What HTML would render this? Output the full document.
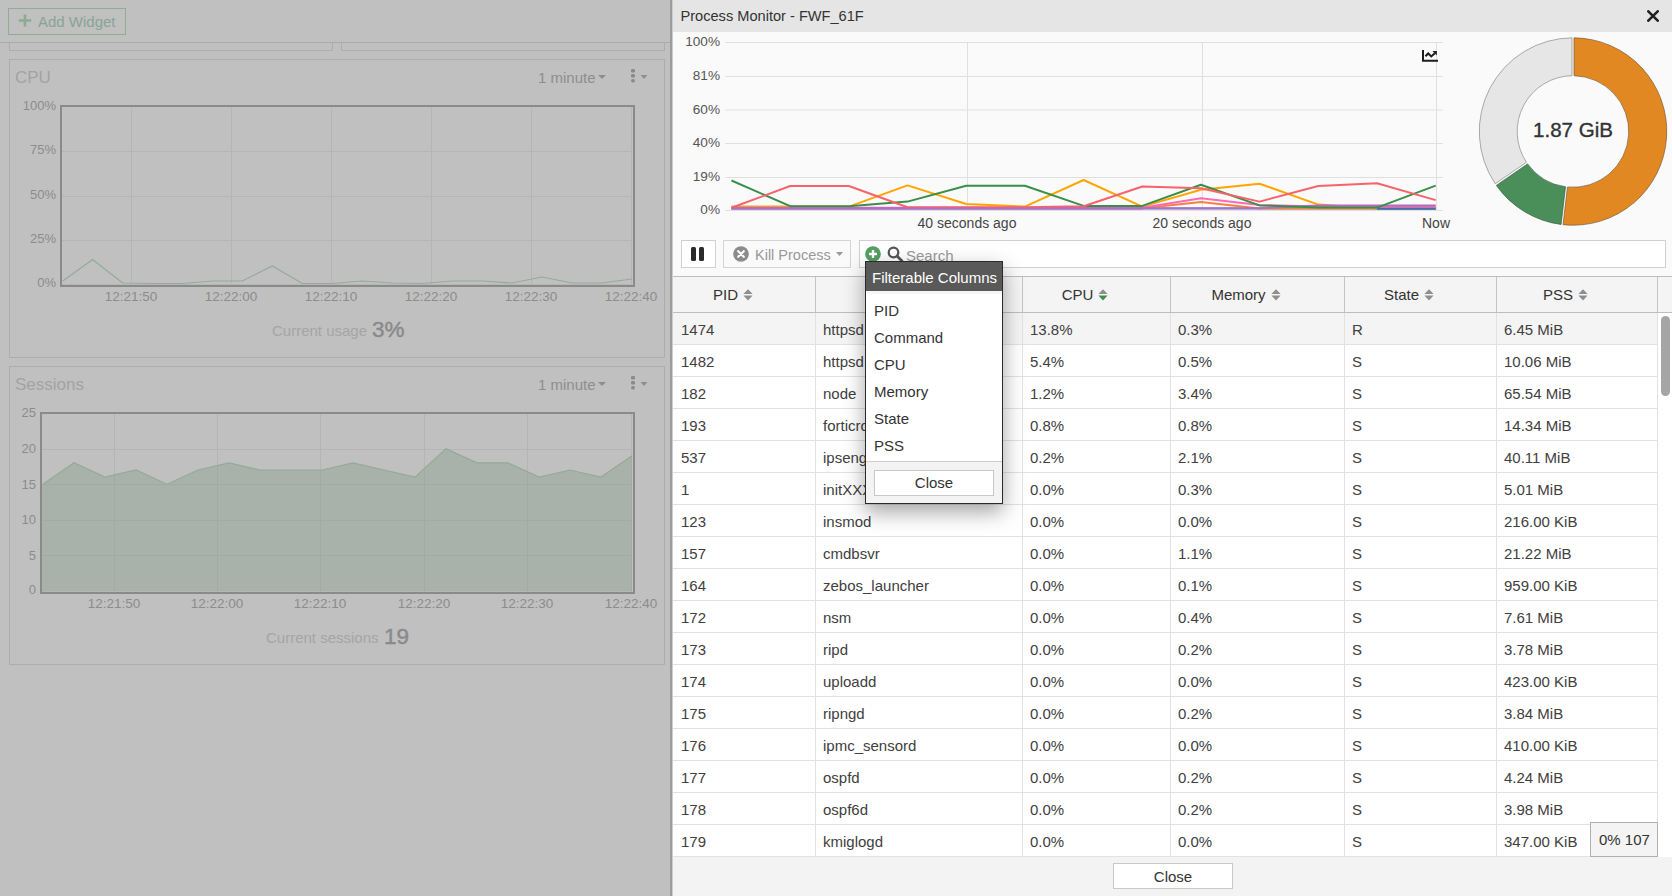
<!DOCTYPE html><html><head><meta charset="utf-8"><title>Process Monitor</title><style>
*{box-sizing:border-box;margin:0;padding:0}
html,body{width:1672px;height:896px;overflow:hidden}
body{font-family:"Liberation Sans",Arial,sans-serif;font-size:15px;color:#333;background:#c0c0c0;position:relative}
.a{position:absolute}
.t{position:absolute;white-space:nowrap}
#left{position:absolute;left:0;top:0;width:670px;height:896px;background:#c0c0c0;overflow:hidden}
.wbox{position:absolute;border:1px solid #adadad}
#modal{position:absolute;left:673px;top:0;width:999px;height:896px;background:#fafafa;overflow:hidden}
.btn{position:absolute;background:#fafafa;border:1px solid #d4d4d4}
.row{position:absolute;left:0;width:984px;height:32px;background:#fff;border-bottom:1px solid #e2e2e2}
.row .t{top:1px;line-height:31px;color:#404040}
.vl{position:absolute;width:1px;background:#e2e2e2}
.hd .t{color:#333}
.dd .t{color:#333}
</style></head><body>
<div id="left">
<div class="a" style="left:0;top:42px;width:670px;height:1px;background:#ababab"></div>
<div class="wbox" style="left:9px;top:30px;width:324px;height:21px;border-top:none"></div>
<div class="wbox" style="left:341px;top:30px;width:324px;height:21px;border-top:none"></div>
<div class="a" style="left:0;top:0;width:670px;height:42px;background:#c0c0c0"></div>
<div class="a" style="left:8px;top:8px;width:118px;height:27px;border:1px solid #8fac94"></div>
<svg class="a" style="left:18px;top:14px" width="14" height="13" viewBox="0 0 14 13"><path d="M7 0.5v12M0.8 6.5h12.4" stroke="#8daa92" stroke-width="2.6"/></svg>
<div class="t" style="left:38px;top:13px;font-size:15px;color:#88a496">Add Widget</div>
<div class="wbox" style="left:9px;top:59px;width:656px;height:299px"></div>
<div class="t" style="left:15px;top:68px;font-size:17px;color:#a3a3a3">CPU</div>
<div class="t" style="left:538px;top:69px;font-size:15px;color:#8e8e8e">1 minute</div>
<svg class="a" style="left:598px;top:75px" width="8" height="4" viewBox="0 0 8 4"><path d="M0 0h8L4 4z" fill="#8e8e8e"/></svg>
<svg class="a" style="left:630px;top:69px" width="18" height="14" viewBox="0 0 18 14"><rect x="1" y="0" width="4" height="3.4" rx="1.2" fill="#8b8b8b"/><rect x="1" y="5" width="4" height="3.4" rx="1.2" fill="#8b8b8b"/><rect x="1" y="10" width="4" height="3.4" rx="1.7" fill="#8b8b8b"/><path d="M10.5 6h7L14 10z" fill="#8e8e8e"/></svg>
<svg class="a" style="left:0;top:0" width="670" height="896" viewBox="0 0 670 896"><line x1="62" y1="106.5" x2="632" y2="106.5" stroke="#b5b5b5" stroke-width="1"/><line x1="62" y1="151.5" x2="632" y2="151.5" stroke="#b5b5b5" stroke-width="1"/><line x1="62" y1="196.5" x2="632" y2="196.5" stroke="#b5b5b5" stroke-width="1"/><line x1="62" y1="240.5" x2="632" y2="240.5" stroke="#b5b5b5" stroke-width="1"/><line x1="62" y1="284.5" x2="632" y2="284.5" stroke="#b5b5b5" stroke-width="1"/><line x1="131.5" y1="107" x2="131.5" y2="284" stroke="#b5b5b5" stroke-width="1"/><line x1="231.5" y1="107" x2="231.5" y2="284" stroke="#b5b5b5" stroke-width="1"/><line x1="331.5" y1="107" x2="331.5" y2="284" stroke="#b5b5b5" stroke-width="1"/><line x1="431.5" y1="107" x2="431.5" y2="284" stroke="#b5b5b5" stroke-width="1"/><line x1="531.5" y1="107" x2="531.5" y2="284" stroke="#b5b5b5" stroke-width="1"/><line x1="631.5" y1="107" x2="631.5" y2="284" stroke="#b5b5b5" stroke-width="1"/><polyline points="62.7,281.0 92.7,259.5 122.6,283.0 152.6,283.5 182.5,283.5 212.4,281.0 242.4,281.0 272.4,266.0 302.3,283.5 332.2,283.5 362.2,281.0 392.1,283.0 422.1,283.5 452.0,281.0 482.0,281.0 511.9,283.0 541.9,277.0 571.9,283.0 601.8,283.0 631.8,279.0" fill="none" stroke="#93ab97" stroke-width="1.2"/><rect x="61" y="106" width="573" height="180" fill="none" stroke="#8a8a8a" stroke-width="2"/></svg>
<div class="t" style="right:614px;top:98.2px;font-size:13px;color:#8c8c8c;text-align:right">100%</div>
<div class="t" style="right:614px;top:142.4px;font-size:13px;color:#8c8c8c;text-align:right">75%</div>
<div class="t" style="right:614px;top:186.6px;font-size:13px;color:#8c8c8c;text-align:right">50%</div>
<div class="t" style="right:614px;top:231.2px;font-size:13px;color:#8c8c8c;text-align:right">25%</div>
<div class="t" style="right:614px;top:275.0px;font-size:13px;color:#8c8c8c;text-align:right">0%</div>
<div class="t" style="left:91px;width:80px;text-align:center;top:289px;font-size:13.5px;color:#8c8c8c">12:21:50</div>
<div class="t" style="left:191px;width:80px;text-align:center;top:289px;font-size:13.5px;color:#8c8c8c">12:22:00</div>
<div class="t" style="left:291px;width:80px;text-align:center;top:289px;font-size:13.5px;color:#8c8c8c">12:22:10</div>
<div class="t" style="left:391px;width:80px;text-align:center;top:289px;font-size:13.5px;color:#8c8c8c">12:22:20</div>
<div class="t" style="left:491px;width:80px;text-align:center;top:289px;font-size:13.5px;color:#8c8c8c">12:22:30</div>
<div class="t" style="left:591px;width:80px;text-align:center;top:289px;font-size:13.5px;color:#8c8c8c">12:22:40</div>
<div class="t" style="left:272px;top:322.3px;font-size:15px;color:#a5a5a5">Current usage</div>
<div class="t" style="left:372px;top:317px;font-size:22.5px;-webkit-text-stroke:0.45px #8a8a8a;color:#8a8a8a">3%</div>
<div class="wbox" style="left:9px;top:366px;width:656px;height:299px"></div>
<div class="t" style="left:15px;top:375px;font-size:17px;color:#a3a3a3">Sessions</div>
<div class="t" style="left:538px;top:376px;font-size:15px;color:#8e8e8e">1 minute</div>
<svg class="a" style="left:598px;top:382px" width="8" height="4" viewBox="0 0 8 4"><path d="M0 0h8L4 4z" fill="#8e8e8e"/></svg>
<svg class="a" style="left:630px;top:376px" width="18" height="14" viewBox="0 0 18 14"><rect x="1" y="0" width="4" height="3.4" rx="1.2" fill="#8b8b8b"/><rect x="1" y="5" width="4" height="3.4" rx="1.2" fill="#8b8b8b"/><rect x="1" y="10" width="4" height="3.4" rx="1.7" fill="#8b8b8b"/><path d="M10.5 6h7L14 10z" fill="#8e8e8e"/></svg>
<svg class="a" style="left:0;top:0" width="670" height="896" viewBox="0 0 670 896"><line x1="42" y1="413.5" x2="632" y2="413.5" stroke="#b5b5b5" stroke-width="1"/><line x1="42" y1="449.5" x2="632" y2="449.5" stroke="#b5b5b5" stroke-width="1"/><line x1="42" y1="484.5" x2="632" y2="484.5" stroke="#b5b5b5" stroke-width="1"/><line x1="42" y1="520.5" x2="632" y2="520.5" stroke="#b5b5b5" stroke-width="1"/><line x1="42" y1="555.5" x2="632" y2="555.5" stroke="#b5b5b5" stroke-width="1"/><line x1="42" y1="591.5" x2="632" y2="591.5" stroke="#b5b5b5" stroke-width="1"/><line x1="114.5" y1="414" x2="114.5" y2="591" stroke="#b5b5b5" stroke-width="1"/><line x1="217.5" y1="414" x2="217.5" y2="591" stroke="#b5b5b5" stroke-width="1"/><line x1="320.5" y1="414" x2="320.5" y2="591" stroke="#b5b5b5" stroke-width="1"/><line x1="424.5" y1="414" x2="424.5" y2="591" stroke="#b5b5b5" stroke-width="1"/><line x1="527.5" y1="414" x2="527.5" y2="591" stroke="#b5b5b5" stroke-width="1"/><line x1="631.5" y1="414" x2="631.5" y2="591" stroke="#b5b5b5" stroke-width="1"/><polygon points="42.0,591.0 42.0,484.2 43.0,484.2 74.0,462.8 105.0,477.1 136.0,470.0 167.0,484.2 198.0,470.0 229.0,462.8 260.0,470.0 291.0,470.0 322.0,470.0 353.0,462.8 384.0,470.0 415.0,477.1 446.0,448.6 477.0,462.8 508.0,462.8 539.0,477.1 570.0,470.0 601.0,477.1 632.0,455.7 632.0,455.7 632.0,591.0" fill="rgb(123,152,129)" fill-opacity="0.35"/><polyline points="43.0,484.2 74.0,462.8 105.0,477.1 136.0,470.0 167.0,484.2 198.0,470.0 229.0,462.8 260.0,470.0 291.0,470.0 322.0,470.0 353.0,462.8 384.0,470.0 415.0,477.1 446.0,448.6 477.0,462.8 508.0,462.8 539.0,477.1 570.0,470.0 601.0,477.1 632.0,455.7" fill="none" stroke="#93ab97" stroke-width="1.2"/><rect x="41" y="413" width="593" height="180" fill="none" stroke="#8a8a8a" stroke-width="2"/></svg>
<div class="t" style="right:634px;top:405.4px;font-size:13px;color:#8c8c8c;text-align:right">25</div>
<div class="t" style="right:634px;top:440.7px;font-size:13px;color:#8c8c8c;text-align:right">20</div>
<div class="t" style="right:634px;top:476.5px;font-size:13px;color:#8c8c8c;text-align:right">15</div>
<div class="t" style="right:634px;top:511.70000000000005px;font-size:13px;color:#8c8c8c;text-align:right">10</div>
<div class="t" style="right:634px;top:547.6px;font-size:13px;color:#8c8c8c;text-align:right">5</div>
<div class="t" style="right:634px;top:582.0px;font-size:13px;color:#8c8c8c;text-align:right">0</div>
<div class="t" style="left:74px;width:80px;text-align:center;top:596px;font-size:13.5px;color:#8c8c8c">12:21:50</div>
<div class="t" style="left:177px;width:80px;text-align:center;top:596px;font-size:13.5px;color:#8c8c8c">12:22:00</div>
<div class="t" style="left:280px;width:80px;text-align:center;top:596px;font-size:13.5px;color:#8c8c8c">12:22:10</div>
<div class="t" style="left:384px;width:80px;text-align:center;top:596px;font-size:13.5px;color:#8c8c8c">12:22:20</div>
<div class="t" style="left:487px;width:80px;text-align:center;top:596px;font-size:13.5px;color:#8c8c8c">12:22:30</div>
<div class="t" style="left:591px;width:80px;text-align:center;top:596px;font-size:13.5px;color:#8c8c8c">12:22:40</div>
<div class="t" style="left:266px;top:629.3px;font-size:15px;color:#a5a5a5">Current sessions</div>
<div class="t" style="left:384px;top:624px;font-size:22.5px;-webkit-text-stroke:0.45px #8a8a8a;color:#8a8a8a">19</div>
</div>
<div class="a" style="left:670px;top:0;width:2px;height:896px;background:#9c9c9c"></div><div class="a" style="left:672px;top:0;width:1px;height:896px;background:#cdcdcd"></div>
<div id="modal">
<div class="a" style="left:0;top:0;width:999px;height:32px;background:#e5e5e5"></div>
<div class="t" style="left:7.5px;top:7.5px;font-size:14.6px;color:#333">Process Monitor - FWF_61F</div>
<svg class="a" style="left:974px;top:10px" width="12" height="12" viewBox="0 0 12 12"><path d="M1.3 1.3L10.7 10.7M10.7 1.3L1.3 10.7" stroke="#222" stroke-width="2.6" stroke-linecap="round"/></svg>
<svg class="a" style="left:0;top:0" width="999" height="240" viewBox="0 0 999 240"><line x1="52" y1="42.5" x2="770" y2="42.5" stroke="#e0e0e0" stroke-width="1"/><line x1="52" y1="76.5" x2="770" y2="76.5" stroke="#e0e0e0" stroke-width="1"/><line x1="52" y1="110.0" x2="770" y2="110.0" stroke="#e0e0e0" stroke-width="1"/><line x1="52" y1="143.5" x2="770" y2="143.5" stroke="#e0e0e0" stroke-width="1"/><line x1="52" y1="177.5" x2="770" y2="177.5" stroke="#e0e0e0" stroke-width="1"/><line x1="294.5" y1="42" x2="294.5" y2="211" stroke="#e0e0e0" stroke-width="1"/><line x1="529.5" y1="42" x2="529.5" y2="211" stroke="#e0e0e0" stroke-width="1"/><line x1="763.5" y1="42" x2="763.5" y2="211" stroke="#e0e0e0" stroke-width="1"/><line x1="52" y1="210.5" x2="770" y2="210.5" stroke="#e0e0e0" stroke-width="1"/><polyline points="58.5,206.6 117.2,206.6 175.9,206.6 234.5,185.4 293.2,204.0 351.9,206.6 410.6,180.0 469.3,206.6 527.9,189.7 586.6,183.7 645.3,204.6 704.0,208.6 762.7,208.6" fill="none" stroke="#ffa500" stroke-width="2" stroke-linejoin="round"/><polyline points="58.5,208.6 117.2,208.6 175.9,208.6 234.5,208.6 293.2,208.6 351.9,208.6 410.6,208.6 469.3,208.6 527.9,208.6 586.6,208.6 645.3,208.6 704.0,208.6 762.7,208.6" fill="none" stroke="#4b9bd4" stroke-width="2" stroke-linejoin="round"/><polyline points="58.5,208.2 117.2,208.2 175.9,208.2 234.5,208.2 293.2,208.2 351.9,208.2 410.6,208.2 469.3,208.2 527.9,202.0 586.6,208.4 645.3,208.4 704.0,208.4 762.7,208.4" fill="none" stroke="#f7813e" stroke-width="2" stroke-linejoin="round"/><polyline points="58.5,207.8 117.2,207.8 175.9,207.8 234.5,207.8 293.2,207.8 351.9,207.8 410.6,207.8 469.3,207.8 527.9,198.2 586.6,205.0 645.3,206.5 704.0,206.5 762.7,206.5" fill="none" stroke="#ff69b4" stroke-width="2" stroke-linejoin="round"/><polyline points="58.5,208.2 117.2,208.2 175.9,208.2 234.5,208.2 293.2,208.2 351.9,208.2 410.6,208.2 469.3,208.2 527.9,208.2 586.6,208.2 645.3,205.4 704.0,205.4 762.7,205.4" fill="none" stroke="#b26cc4" stroke-width="2" stroke-linejoin="round"/><polyline points="58.5,180.5 117.2,206.2 175.9,206.2 234.5,201.6 293.2,185.8 351.9,185.8 410.6,205.9 469.3,205.9 527.9,184.7 586.6,205.4 645.3,207.6 704.0,207.6 762.7,185.6" fill="none" stroke="#3a8f48" stroke-width="2" stroke-linejoin="round"/><polyline points="58.5,207.8 117.2,186.0 175.9,186.0 234.5,207.3 293.2,207.3 351.9,207.3 410.6,206.2 469.3,186.5 527.9,188.2 586.6,201.6 645.3,186.0 704.0,183.2 762.7,200.1" fill="none" stroke="#f7636a" stroke-width="2" stroke-linejoin="round"/><polyline points="58.5,208.5 469.3,208.5" fill="none" stroke="#b26cc4" stroke-width="2"/><polyline points="704.0,208.8 762.7,208.8" fill="none" stroke="#3f6fb5" stroke-width="2"/><g transform="translate(749,50)"><path d="M1 0V10.8H16" fill="none" stroke="#1e1e1e" stroke-width="2"/><path d="M3.4 6.2L6.2 3.4L9.3 6.4L12.8 3.2" fill="none" stroke="#1e1e1e" stroke-width="2.1"/><path d="M10.4 1.1H14.9V5.6Z" fill="#1e1e1e"/></g><path d="M901.00 37.81A93.7 93.7 0 1 1 890.06 224.67L894.48 187.03A55.8 55.8 0 1 0 901.00 75.71Z" fill="#e28823" stroke="#7a5a3a" stroke-width="0.7"/><path d="M888.08 224.44A93.7 93.7 0 0 1 823.35 185.39L854.59 163.92A55.8 55.8 0 0 0 892.50 186.79Z" fill="#4a8f59" stroke="#3d5a44" stroke-width="0.7"/><path d="M822.22 183.75A93.7 93.7 0 0 1 899.00 37.81L899.00 75.71A55.8 55.8 0 0 0 853.45 162.28Z" fill="#e6e6e6" stroke="#8a8a8a" stroke-width="0.7"/></svg>
<div class="t" style="right:952px;top:34.4px;font-size:13.6px;color:#555;text-align:right">100%</div>
<div class="t" style="right:952px;top:68.4px;font-size:13.6px;color:#555;text-align:right">81%</div>
<div class="t" style="right:952px;top:101.9px;font-size:13.6px;color:#555;text-align:right">60%</div>
<div class="t" style="right:952px;top:135.4px;font-size:13.6px;color:#555;text-align:right">40%</div>
<div class="t" style="right:952px;top:169.4px;font-size:13.6px;color:#555;text-align:right">19%</div>
<div class="t" style="right:952px;top:202.4px;font-size:13.6px;color:#555;text-align:right">0%</div>
<div class="t" style="left:234px;width:120px;text-align:center;top:215.3px;font-size:14px;color:#444">40 seconds ago</div>
<div class="t" style="left:469px;width:120px;text-align:center;top:215.3px;font-size:14px;color:#444">20 seconds ago</div>
<div class="t" style="left:703px;width:120px;text-align:center;top:215.3px;font-size:14px;color:#444">Now</div>
<div class="t" style="left:840px;width:120px;text-align:center;top:118px;font-size:20.5px;-webkit-text-stroke:0.35px #333;color:#333">1.87 GiB</div>
<div class="btn" style="left:8px;top:240px;width:35px;height:28px;background:#fff;border-color:#d0d0d0"></div>
<div class="a" style="left:18px;top:247px;width:5px;height:14px;background:#2b2b2b;border-radius:1.5px"></div>
<div class="a" style="left:26px;top:247px;width:5px;height:14px;background:#2b2b2b;border-radius:1.5px"></div>
<div class="btn" style="left:50px;top:240px;width:128px;height:28px"></div>
<svg class="a" style="left:60px;top:246px" width="16" height="16" viewBox="0 0 16 16"><circle cx="8" cy="8" r="7.8" fill="#8c8c8c"/><path d="M5.2 5.2l5.6 5.6M10.8 5.2l-5.6 5.6" stroke="#fff" stroke-width="2.2" stroke-linecap="round"/></svg>
<div class="t" style="left:82px;top:246.5px;font-size:14.5px;color:#999">Kill Process</div>
<svg class="a" style="left:163px;top:252px" width="7" height="4" viewBox="0 0 7 4"><path d="M0 0h7L3.5 4z" fill="#999"/></svg>
<div class="btn" style="left:186px;top:240px;width:807px;height:28px;background:#fff;border-color:#cfcfcf"></div>
<svg class="a" style="left:192px;top:246px" width="16" height="16" viewBox="0 0 16 16"><circle cx="8" cy="8" r="7.8" fill="#53a062"/><path d="M8 4v8M4 8h8" stroke="#fff" stroke-width="2.4"/></svg>
<svg class="a" style="left:214px;top:246px" width="17" height="17" viewBox="0 0 17 17"><circle cx="6.5" cy="6.5" r="4.8" fill="none" stroke="#555" stroke-width="2.2"/><path d="M10 10l5 5" stroke="#555" stroke-width="2.8" stroke-linecap="round"/></svg>
<div class="t" style="left:233px;top:246.5px;font-size:15px;color:#999">Search</div>
<div class="a" style="left:0;top:276px;width:999px;height:37px;background:#f4f4f4;border-top:1px solid #bdbdbd;border-bottom:1px solid #bdbdbd"></div>
<div class="a" style="left:142px;top:277px;width:1px;height:35px;background:#c4c4c4"></div>
<div class="a" style="left:349px;top:277px;width:1px;height:35px;background:#c4c4c4"></div>
<div class="a" style="left:497px;top:277px;width:1px;height:35px;background:#c4c4c4"></div>
<div class="a" style="left:671px;top:277px;width:1px;height:35px;background:#c4c4c4"></div>
<div class="a" style="left:823px;top:277px;width:1px;height:35px;background:#c4c4c4"></div>
<div class="a" style="left:984px;top:277px;width:1px;height:35px;background:#c4c4c4"></div>
<div class="a" style="left:0px;top:277px;width:142px;height:35px;display:flex;align-items:center;justify-content:center;padding-right:22px;font-size:15px;color:#333"><span style="white-space:nowrap;position:relative;top:-0.5px">PID</span><svg width="10" height="12" viewBox="0 0 10 12" style="margin-left:5px;flex:none"><path d="M5 0.2L9.6 5H0.4z" fill="#8e8e8e"/><path d="M0.4 6.6h9.2L5 11.6z" fill="#8e8e8e"/></svg></div>
<div class="a" style="left:142px;top:277px;width:207px;height:35px;display:flex;align-items:center;justify-content:center;padding-right:22px;font-size:15px;color:#333"><span style="white-space:nowrap;position:relative;top:-0.5px">Command</span><svg width="10" height="12" viewBox="0 0 10 12" style="margin-left:5px;flex:none"><path d="M5 0.2L9.6 5H0.4z" fill="#8e8e8e"/><path d="M0.4 6.6h9.2L5 11.6z" fill="#8e8e8e"/></svg></div>
<div class="a" style="left:349px;top:277px;width:148px;height:35px;display:flex;align-items:center;justify-content:center;padding-right:22px;font-size:15px;color:#333"><span style="white-space:nowrap;position:relative;top:-0.5px">CPU</span><svg width="10" height="12" viewBox="0 0 10 12" style="margin-left:5px;flex:none"><path d="M5 0.2L9.6 5H0.4z" fill="#8e8e8e"/><path d="M0.4 6.6h9.2L5 11.6z" fill="#3f8f4f"/></svg></div>
<div class="a" style="left:497px;top:277px;width:174px;height:35px;display:flex;align-items:center;justify-content:center;padding-right:22px;font-size:15px;color:#333"><span style="white-space:nowrap;position:relative;top:-0.5px">Memory</span><svg width="10" height="12" viewBox="0 0 10 12" style="margin-left:5px;flex:none"><path d="M5 0.2L9.6 5H0.4z" fill="#8e8e8e"/><path d="M0.4 6.6h9.2L5 11.6z" fill="#8e8e8e"/></svg></div>
<div class="a" style="left:671px;top:277px;width:152px;height:35px;display:flex;align-items:center;justify-content:center;padding-right:22px;font-size:15px;color:#333"><span style="white-space:nowrap;position:relative;top:-0.5px">State</span><svg width="10" height="12" viewBox="0 0 10 12" style="margin-left:5px;flex:none"><path d="M5 0.2L9.6 5H0.4z" fill="#8e8e8e"/><path d="M0.4 6.6h9.2L5 11.6z" fill="#8e8e8e"/></svg></div>
<div class="a" style="left:823px;top:277px;width:161px;height:35px;display:flex;align-items:center;justify-content:center;padding-right:22px;font-size:15px;color:#333"><span style="white-space:nowrap;position:relative;top:-0.5px">PSS</span><svg width="10" height="12" viewBox="0 0 10 12" style="margin-left:5px;flex:none"><path d="M5 0.2L9.6 5H0.4z" fill="#8e8e8e"/><path d="M0.4 6.6h9.2L5 11.6z" fill="#8e8e8e"/></svg></div>
<div class="row" style="top:313px;background:#f4f4f4;height:32px">
<div class="t" style="left:8px">1474</div>
<div class="t" style="left:150px">httpsd</div>
<div class="t" style="left:357px">13.8%</div>
<div class="t" style="left:505px">0.3%</div>
<div class="t" style="left:679px">R</div>
<div class="t" style="left:831px">6.45 MiB</div>
</div>
<div class="row" style="top:345px;background:#fff;height:32px">
<div class="t" style="left:8px">1482</div>
<div class="t" style="left:150px">httpsd</div>
<div class="t" style="left:357px">5.4%</div>
<div class="t" style="left:505px">0.5%</div>
<div class="t" style="left:679px">S</div>
<div class="t" style="left:831px">10.06 MiB</div>
</div>
<div class="row" style="top:377px;background:#fff;height:32px">
<div class="t" style="left:8px">182</div>
<div class="t" style="left:150px">node</div>
<div class="t" style="left:357px">1.2%</div>
<div class="t" style="left:505px">3.4%</div>
<div class="t" style="left:679px">S</div>
<div class="t" style="left:831px">65.54 MiB</div>
</div>
<div class="row" style="top:409px;background:#fff;height:32px">
<div class="t" style="left:8px">193</div>
<div class="t" style="left:150px">forticron</div>
<div class="t" style="left:357px">0.8%</div>
<div class="t" style="left:505px">0.8%</div>
<div class="t" style="left:679px">S</div>
<div class="t" style="left:831px">14.34 MiB</div>
</div>
<div class="row" style="top:441px;background:#fff;height:32px">
<div class="t" style="left:8px">537</div>
<div class="t" style="left:150px">ipsengine</div>
<div class="t" style="left:357px">0.2%</div>
<div class="t" style="left:505px">2.1%</div>
<div class="t" style="left:679px">S</div>
<div class="t" style="left:831px">40.11 MiB</div>
</div>
<div class="row" style="top:473px;background:#fff;height:32px">
<div class="t" style="left:8px">1</div>
<div class="t" style="left:150px">initXXXXXXXXXXX</div>
<div class="t" style="left:357px">0.0%</div>
<div class="t" style="left:505px">0.3%</div>
<div class="t" style="left:679px">S</div>
<div class="t" style="left:831px">5.01 MiB</div>
</div>
<div class="row" style="top:505px;background:#fff;height:32px">
<div class="t" style="left:8px">123</div>
<div class="t" style="left:150px">insmod</div>
<div class="t" style="left:357px">0.0%</div>
<div class="t" style="left:505px">0.0%</div>
<div class="t" style="left:679px">S</div>
<div class="t" style="left:831px">216.00 KiB</div>
</div>
<div class="row" style="top:537px;background:#fff;height:32px">
<div class="t" style="left:8px">157</div>
<div class="t" style="left:150px">cmdbsvr</div>
<div class="t" style="left:357px">0.0%</div>
<div class="t" style="left:505px">1.1%</div>
<div class="t" style="left:679px">S</div>
<div class="t" style="left:831px">21.22 MiB</div>
</div>
<div class="row" style="top:569px;background:#fff;height:32px">
<div class="t" style="left:8px">164</div>
<div class="t" style="left:150px">zebos_launcher</div>
<div class="t" style="left:357px">0.0%</div>
<div class="t" style="left:505px">0.1%</div>
<div class="t" style="left:679px">S</div>
<div class="t" style="left:831px">959.00 KiB</div>
</div>
<div class="row" style="top:601px;background:#fff;height:32px">
<div class="t" style="left:8px">172</div>
<div class="t" style="left:150px">nsm</div>
<div class="t" style="left:357px">0.0%</div>
<div class="t" style="left:505px">0.4%</div>
<div class="t" style="left:679px">S</div>
<div class="t" style="left:831px">7.61 MiB</div>
</div>
<div class="row" style="top:633px;background:#fff;height:32px">
<div class="t" style="left:8px">173</div>
<div class="t" style="left:150px">ripd</div>
<div class="t" style="left:357px">0.0%</div>
<div class="t" style="left:505px">0.2%</div>
<div class="t" style="left:679px">S</div>
<div class="t" style="left:831px">3.78 MiB</div>
</div>
<div class="row" style="top:665px;background:#fff;height:32px">
<div class="t" style="left:8px">174</div>
<div class="t" style="left:150px">uploadd</div>
<div class="t" style="left:357px">0.0%</div>
<div class="t" style="left:505px">0.0%</div>
<div class="t" style="left:679px">S</div>
<div class="t" style="left:831px">423.00 KiB</div>
</div>
<div class="row" style="top:697px;background:#fff;height:32px">
<div class="t" style="left:8px">175</div>
<div class="t" style="left:150px">ripngd</div>
<div class="t" style="left:357px">0.0%</div>
<div class="t" style="left:505px">0.2%</div>
<div class="t" style="left:679px">S</div>
<div class="t" style="left:831px">3.84 MiB</div>
</div>
<div class="row" style="top:729px;background:#fff;height:32px">
<div class="t" style="left:8px">176</div>
<div class="t" style="left:150px">ipmc_sensord</div>
<div class="t" style="left:357px">0.0%</div>
<div class="t" style="left:505px">0.0%</div>
<div class="t" style="left:679px">S</div>
<div class="t" style="left:831px">410.00 KiB</div>
</div>
<div class="row" style="top:761px;background:#fff;height:32px">
<div class="t" style="left:8px">177</div>
<div class="t" style="left:150px">ospfd</div>
<div class="t" style="left:357px">0.0%</div>
<div class="t" style="left:505px">0.2%</div>
<div class="t" style="left:679px">S</div>
<div class="t" style="left:831px">4.24 MiB</div>
</div>
<div class="row" style="top:793px;background:#fff;height:32px">
<div class="t" style="left:8px">178</div>
<div class="t" style="left:150px">ospf6d</div>
<div class="t" style="left:357px">0.0%</div>
<div class="t" style="left:505px">0.2%</div>
<div class="t" style="left:679px">S</div>
<div class="t" style="left:831px">3.98 MiB</div>
</div>
<div class="row" style="top:825px;background:#fff;height:32px">
<div class="t" style="left:8px">179</div>
<div class="t" style="left:150px">kmiglogd</div>
<div class="t" style="left:357px">0.0%</div>
<div class="t" style="left:505px">0.0%</div>
<div class="t" style="left:679px">S</div>
<div class="t" style="left:831px">347.00 KiB</div>
</div>
<div class="vl" style="left:142px;top:313px;height:544px"></div>
<div class="vl" style="left:349px;top:313px;height:544px"></div>
<div class="vl" style="left:497px;top:313px;height:544px"></div>
<div class="vl" style="left:671px;top:313px;height:544px"></div>
<div class="vl" style="left:823px;top:313px;height:544px"></div>
<div class="vl" style="left:984px;top:313px;height:544px"></div>
<div class="a" style="left:985px;top:313px;width:14px;height:544px;background:#fff"></div>
<div class="a" style="left:988px;top:316px;width:9px;height:80px;background:#a5a5a5;border-radius:5px"></div>
<div class="a" style="left:917px;top:822px;width:68px;height:35px;background:#f4f4f4;border:1px solid #b0b0b0"></div>
<div class="t" style="left:926px;top:831px;font-size:15px;color:#333">0% 107</div>
<div class="a" style="left:0;top:857px;width:999px;height:39px;background:#f3f3f3"></div>
<div class="a" style="left:440px;top:863px;width:120px;height:26px;background:#fff;border:1px solid #c8c8c8"></div>
<div class="t" style="left:440px;top:868px;width:120px;text-align:center;font-size:15px;color:#333">Close</div>
<div class="a" style="left:192px;top:261px;width:138px;height:243px;background:#fff;border:1px solid #2a2a2a;box-shadow:0 8px 20px rgba(0,0,0,0.36)"></div>
<div class="a" style="left:193px;top:262px;width:136px;height:29px;background:#595959"></div>
<div class="t" style="left:199px;top:269px;font-size:15px;color:#fff">Filterable Columns</div>
<div class="a" style="left:193px;top:291px;width:136px;height:3px;background:#f6f6f6"></div>
<div class="t" style="left:201px;top:302px;font-size:15px;color:#333">PID</div>
<div class="t" style="left:201px;top:329px;font-size:15px;color:#333">Command</div>
<div class="t" style="left:201px;top:356px;font-size:15px;color:#333">CPU</div>
<div class="t" style="left:201px;top:383px;font-size:15px;color:#333">Memory</div>
<div class="t" style="left:201px;top:410px;font-size:15px;color:#333">State</div>
<div class="t" style="left:201px;top:437px;font-size:15px;color:#333">PSS</div>
<div class="a" style="left:193px;top:461px;width:136px;height:42px;background:#f3f3f3;border-top:1px solid #cfcfcf"></div>
<div class="a" style="left:201px;top:470px;width:120px;height:26px;background:#fff;border:1px solid #c8c8c8"></div>
<div class="t" style="left:201px;top:474px;width:120px;text-align:center;font-size:15px;color:#333">Close</div>
</div>
</body></html>
